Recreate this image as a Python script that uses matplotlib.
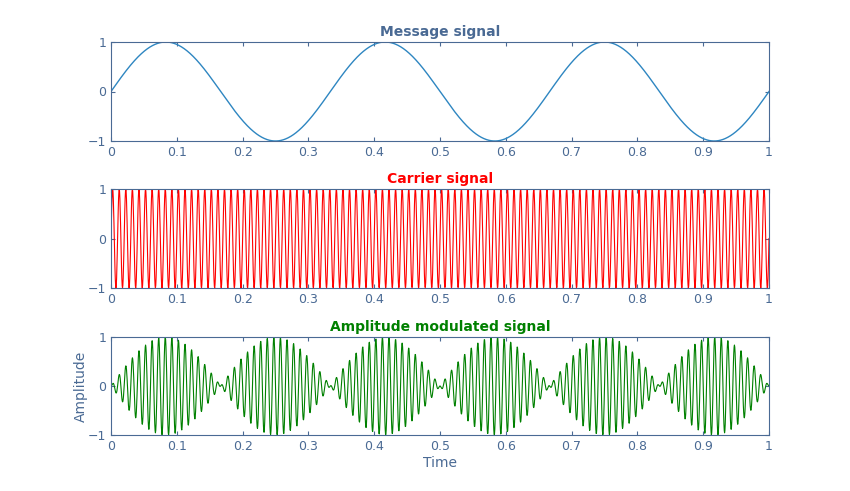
import numpy as np
import matplotlib
matplotlib.use("Agg")
import matplotlib.pyplot as plt

fm = 3.0      # message frequency
fc = 100.0    # carrier frequency
n_samples = 2000
t = np.linspace(0, 1, n_samples)
message = np.sin(2*np.pi*fm*t)
carrier = np.sin(2*np.pi*fc*t)
am = message * carrier

titles = ["Message signal", "Carrier signal", "Amplitude modulated signal"]
title_colors = ["#4a6a94", "red", "green"]
line_colors = ["#2e86c1", "red", "green"]
series = [message, carrier, am]
xticks = [0, 0.1, 0.2, 0.3, 0.4, 0.5, 0.6, 0.7, 0.8, 0.9, 1]
xtick_labels = ["0", "0.1", "0.2", "0.3", "0.4", "0.5", "0.6", "0.7", "0.8", "0.9", "1"]
yticks = [-1, 0, 1]

axc = "#4a6a94"
fig = plt.figure(figsize=(8.5, 4.91), dpi=100)
W, H = 850, 491
boxes = [(42, 141), (189, 288), (337, 435)]
for i, (top, bot) in enumerate(boxes):
    ax = fig.add_axes([111/W, 1-bot/H, (769-111)/W, (bot-top)/H])
    lw = 0.8 if i else 1.0
    ax.plot(t, series[i], color=line_colors[i], lw=lw)
    ax.set_xlim(0, 1); ax.set_ylim(-1, 1)
    ax.set_xticks(xticks); ax.set_xticklabels(xtick_labels)
    ax.set_yticks(yticks)
    ax.tick_params(direction="in", colors=axc, labelsize=9, length=3, top=True, right=True)
    for s in ax.spines.values():
        s.set_color(axc); s.set_linewidth(0.8)
    ax.set_title(titles[i], color=title_colors[i], fontweight="bold", fontsize=10, pad=4)
    if i == 2:
        ax.set_xlabel("Time", color=axc, fontsize=10, labelpad=2)
        ax.set_ylabel("Amplitude", color=axc, fontsize=10, labelpad=0)
fig.savefig("out.png", dpi=100)
